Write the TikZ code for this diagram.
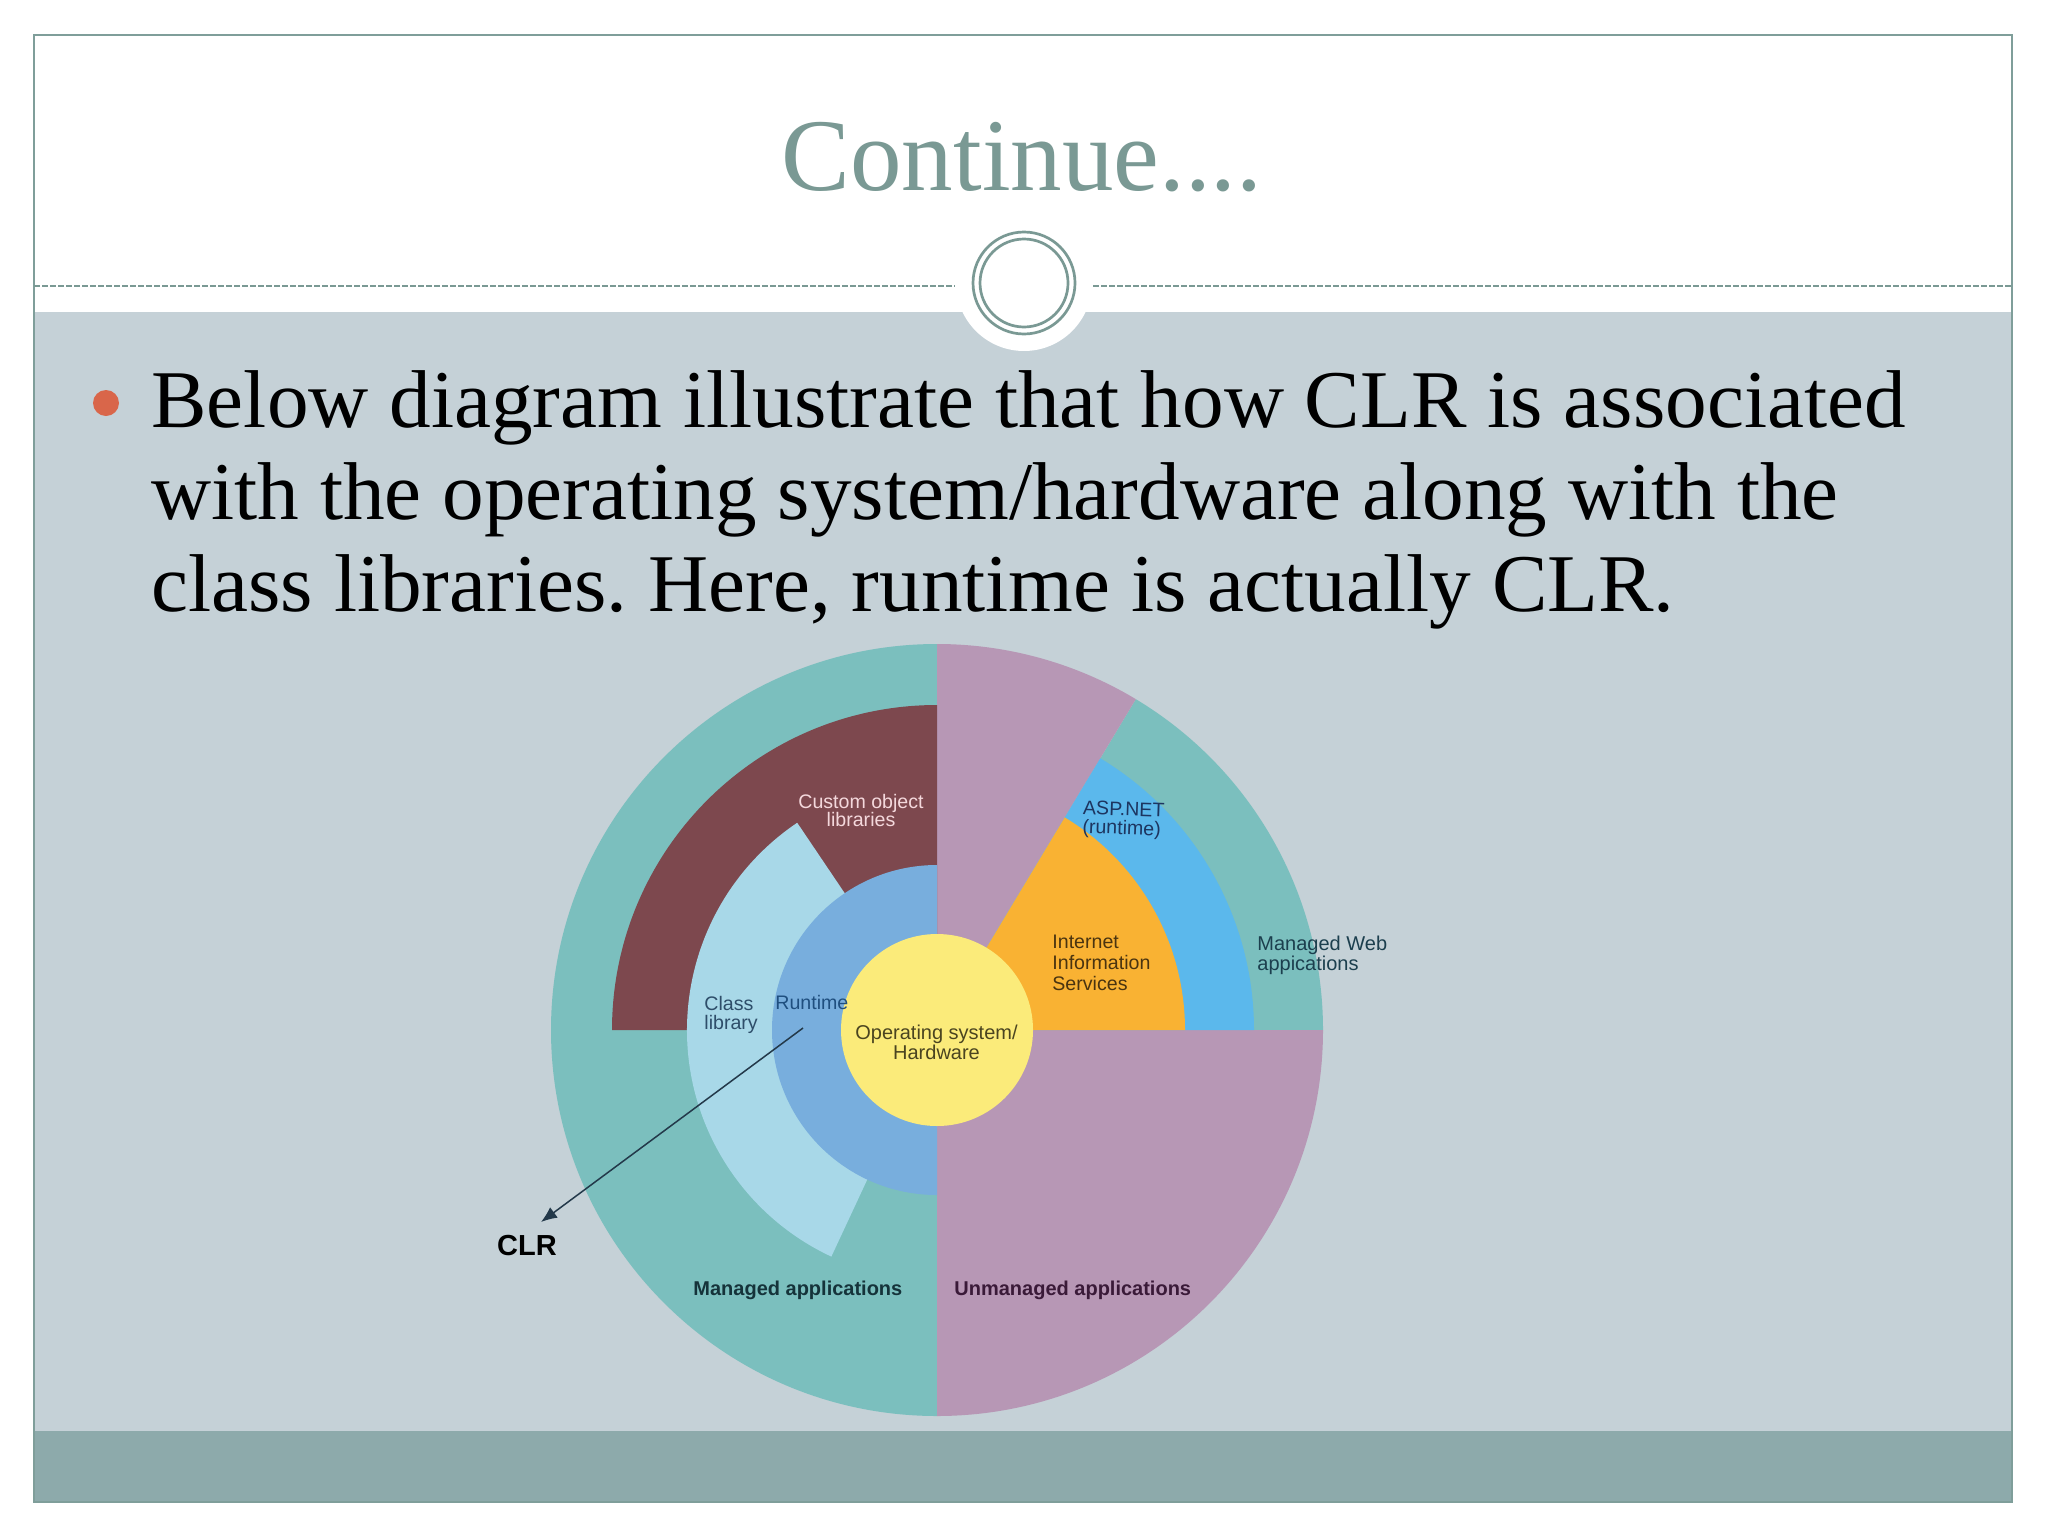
\documentclass[tikz,border=0pt]{standalone}
\usepackage{fontspec}
\setmainfont{Liberation Serif}
\setsansfont{Liberation Sans}
\usetikzlibrary{arrows.meta}
\frenchspacing
\definecolor{slidebg}{HTML}{C5D1D7}
\definecolor{bandcol}{HTML}{8DAAAB}
\definecolor{bordercol}{HTML}{7F9E9A}
\definecolor{titlecol}{HTML}{7A9994}
\definecolor{bulletcol}{HTML}{D9664A}
\definecolor{cteal}{HTML}{7BBFBE}
\definecolor{cpurple}{HTML}{B797B5}
\definecolor{cmaroon}{HTML}{7D484E}
\definecolor{cclass}{HTML}{A8D8E8}
\definecolor{crun}{HTML}{78AEDD}
\definecolor{cyellow}{HTML}{FBEB7A}
\definecolor{corange}{HTML}{F9B233}
\definecolor{casp}{HTML}{5BB8EC}
\definecolor{tcustom}{HTML}{F4D8DC}
\definecolor{tasp}{HTML}{1D3560}
\definecolor{tiis}{HTML}{4A3410}
\definecolor{tweb}{HTML}{1C3F4E}
\definecolor{tclass}{HTML}{2E4E6A}
\definecolor{trun}{HTML}{1F4F7F}
\definecolor{tos}{HTML}{4A4420}
\definecolor{tman}{HTML}{15333A}
\definecolor{tunman}{HTML}{3A1A38}
\definecolor{arrowcol}{HTML}{23394A}
\tikzset{
  lbl/.style={inner sep=0pt, font=\sffamily\fontsize{9.8}{10}\selectfont},
  boldlbl/.style={inner sep=0pt, font=\sffamily\bfseries\fontsize{10}{12}\selectfont},
  ring/.style={draw=titlecol, line width=1.35pt},
  rule/.style={draw=titlecol, line width=0.65pt, dash pattern=on 3pt off 1pt}
}
\begin{document}
\begin{tikzpicture}[x=0.5pt,y=-0.5pt]
\useasboundingbox (0,0) rectangle (2048,1536);
\fill[white] (0,0) rectangle (2048,1536);
% slide body
\fill[slidebg] (34,312) rectangle (2012,1431);
\fill[bandcol] (34,1431) rectangle (2012,1502);
\draw[bordercol, line width=0.7pt] (34,35) rectangle (2012,1502);
% header rule and ornament
\coordinate (ruleL0) at (34,286);
\coordinate (ruleL1) at (955,286);
\coordinate (ruleR0) at (1093,286);
\coordinate (ruleR1) at (2012,286);
\draw[rule] (ruleL0) -- (ruleL1);
\draw[rule] (ruleR0) -- (ruleR1);
\fill[white] (1024,283) circle[radius=68];
\draw[ring] (1024,283) circle[radius=51];
\draw[ring] (1024,283) circle[radius=44];
% title
\node[anchor=base, inner sep=0, text=titlecol, font=\fontsize{51.5}{60}\selectfont] (title) at (1022,190) {Continue....};
% bullet and body
\fill[bulletcol] (106,403) circle[radius=13];
\node[anchor=north west, inner sep=0, align=left, xscale=1.015, transform shape, font=\fontsize{41}{46}\selectfont] (body) at (151,370)
  {Below diagram illustrate that how CLR is associated\\with the operating system/hardware along with the\\class libraries. Here, runtime is actually CLR.};
% diagram
\begin{scope}[shift={(937,1030)}, x=0.5pt, y=0.5pt]
  \fill[cteal] (0,0) -- (90:386) arc[start angle=90, end angle=270, radius=386] -- cycle;
  \fill[cteal] (0,0) -- (0:386) arc[start angle=0, end angle=59, radius=386] -- cycle;
  \fill[cpurple] (0,0) -- (59:386) arc[start angle=59, end angle=90, radius=386] -- cycle;
  \fill[cpurple] (0,0) -- (-90:386) arc[start angle=-90, end angle=0, radius=386] -- cycle;
  \fill[casp] (0,0) -- (0:317) arc[start angle=0, end angle=59, radius=317] -- cycle;
  \fill[corange] (0,0) -- (0:248) arc[start angle=0, end angle=59, radius=248] -- cycle;
  \fill[cmaroon] (0,0) -- (90:325) arc[start angle=90, end angle=180, radius=325] -- cycle;
  \fill[cclass] (0,0) -- (124:250) arc[start angle=124, end angle=245, radius=250] -- cycle;
  \fill[crun] (0,0) -- (90:165) arc[start angle=90, end angle=270, radius=165] -- cycle;
  \fill[cyellow] (0,0) circle[radius=96];
\end{scope}
% labels
\node[lbl, anchor=north, align=center, text=tcustom, font=\sffamily\fontsize{9.8}{9.15}\selectfont] (custom) at (861,794) {Custom object\\libraries};
\node[lbl, anchor=north west, align=left, text=tasp, rotate=-2, font=\sffamily\fontsize{9.8}{9.5}\selectfont] (asp) at (1083,800) {ASP.NET\\(runtime)};
\node[lbl, anchor=north west, align=left, text=tiis, font=\sffamily\fontsize{9.8}{10.5}\selectfont] (iis) at (1052,935) {Internet\\Information\\Services};
\node[lbl, anchor=north west, align=left, text=tweb, font=\sffamily\fontsize{10}{10}\selectfont] (web) at (1257,936) {Managed Web\\appications};
\node[lbl, anchor=north west, align=left, text=tclass, font=\sffamily\fontsize{9.8}{9.25}\selectfont] (classlib) at (704,996) {Class\\library};
\node[lbl, anchor=base west, text=trun] (runtime) at (775,1009) {Runtime};
\node[lbl, anchor=north, align=center, text=tos, font=\sffamily\fontsize{10}{10}\selectfont] (os) at (936.5,1025) {Operating system/\\Hardware};
\node[boldlbl, anchor=base west, text=tman] (managed) at (693,1295) {Managed applications};
\node[boldlbl, anchor=base west, text=tunman] (unmanaged) at (954,1295) {Unmanaged applications};
\node[anchor=base, inner sep=0, font=\sffamily\bfseries\fontsize{14.5}{16}\selectfont] (clr) at (527,1255) {CLR};
% arrow
\coordinate (arrowstart) at (803,1028);
\coordinate (arrowtip) at (541,1222);
\draw[arrowcol, line width=0.75pt, -{Latex[length=8pt,width=6.5pt]}] (arrowstart) -- (arrowtip);
\end{tikzpicture}
\end{document}
